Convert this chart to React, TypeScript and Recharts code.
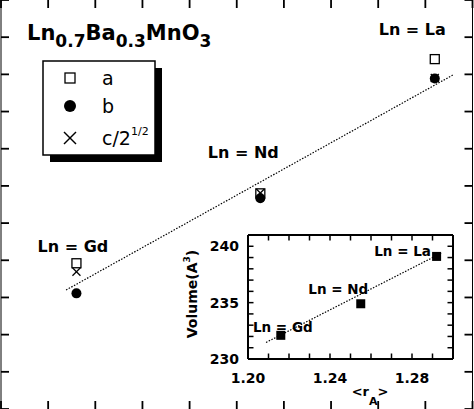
import React from 'react';
import { ScatterChart, Scatter, XAxis, YAxis, Legend, Customized } from 'recharts';

const FONT = 'DejaVu Sans';

// ---- main panel data ----
const lnNames = ['Gd', 'Nd', 'La'];
const rA = [1.216, 1.255, 1.292];
const aValues = [3.8892, 3.908, 3.9441];
const bValues = [3.8811, 3.9067, 3.9389];
const cValues = [3.8869, 3.9081, 3.939];
const fitX = [1.2138, 1.2958];
const fitY = [3.882, 3.9398];
const mainXTicks = [1.2, 1.21, 1.22, 1.23, 1.24, 1.25, 1.26, 1.27, 1.28, 1.29, 1.3];
const mainYTicks = [3.85, 3.86, 3.87, 3.88, 3.89, 3.9, 3.91, 3.92, 3.93, 3.94, 3.95, 3.96];

// ---- inset data ----
const volume = [232.1, 234.9, 239.1];
const volFitX = [1.2088, 1.2946];
const volFitY = [231.47, 239.42];
const insetXTicks = [1.2, 1.21, 1.22, 1.23, 1.24, 1.25, 1.26, 1.27, 1.28, 1.29, 1.3];
const insetXLabels = [1.2, 1.24, 1.28];
const insetYTicks = [230, 231, 232, 233, 234, 235, 236, 237, 238, 239, 240, 241];
const insetYLabels = [230, 235, 240];

const aData = rA.map((x, i) => ({ x, y: aValues[i], ln: lnNames[i] }));
const bData = rA.map((x, i) => ({ x, y: bValues[i], ln: lnNames[i] }));
const cData = rA.map((x, i) => ({ x, y: cValues[i], ln: lnNames[i] }));
const fitData = fitX.map((x, i) => ({ x, y: fitY[i] }));
const volData = rA.map((x, i) => ({ x, y: volume[i], ln: lnNames[i] }));
const volFitData = volFitX.map((x, i) => ({ x, y: volFitY[i] }));

// ---- layout / styles ----
const MAIN_W = 474;
const MAIN_H = 411;
const MAIN_MARGIN = { top: 0, right: 0.5, bottom: 0, left: 0 };
const MAIN_PLOT = { left: 1, right: 472.5, top: 1, bottom: 410 };
const INSET_W = 285;
const INSET_H = 185;
const INSET_MARGIN = { top: 9, right: 6, bottom: 21, left: 0 };
const INSET_PLOT = { left: 73, right: 278, top: 10, bottom: 134 };
const MAIN_TICK = { len: 8, width: 1.8 };
const INSET_TICK = { len: 5.5, width: 1.5 };

const mainLabelOffset: Record<string, [number, number]> = {
  Gd: [-3.5, -11.3],
  Nd: [-17, -35.5],
  La: [-22.5, -24.3],
};
const insetLabelOffset: Record<string, [number, number]> = {
  Gd: [2, -3],
  Nd: [-22.5, -10],
  La: [-34, 0],
};
const dotted = { stroke: '#000', strokeWidth: 1.2, strokeDasharray: '1.5 1.5', fill: 'none' };

const SquareOpen = (p: any) => (
  <rect x={p.cx - 4.5} y={p.cy - 4.5} width={9} height={9} fill="#fff" stroke="#000" strokeWidth={1.3} />
);
const Dot = (p: any) => <circle cx={p.cx} cy={p.cy} r={5} fill="#000" />;
const Cross = (p: any) => (
  <g stroke="#000" strokeWidth={1.3}>
    <line x1={p.cx - 4} y1={p.cy - 4} x2={p.cx + 4} y2={p.cy + 4} />
    <line x1={p.cx - 4} y1={p.cy + 4} x2={p.cx + 4} y2={p.cy - 4} />
  </g>
);
const SquareFilled = (p: any) => <rect x={p.cx - 4.5} y={p.cy - 4.5} width={9} height={9} fill="#000" />;
const Nothing = () => <g />;

const makeNameShape = (offsets: Record<string, [number, number]>, fontSize: number) => (p: any) => {
  const ln = p.payload?.ln;
  const o = offsets[ln] || [0, 0];
  return (
    <text x={p.cx + o[0]} y={p.cy + o[1]} textAnchor="middle" fontFamily={FONT} fontWeight="bold" fontSize={fontSize} fill="#000">
      {`Ln = ${ln}`}
    </text>
  );
};
const mainNameShape = makeNameShape(mainLabelOffset, 16);
const insetNameShape = makeNameShape(insetLabelOffset, 13.5);

// main chart container is shifted 1px up, so y coordinates are +1
const Title = () => (
  <text x={27} y={41} fontFamily={FONT} fontWeight="bold" fontSize={21} fill="#000">
    Ln
    <tspan fontSize={17} dy={7}>0.7</tspan>
    <tspan dy={-7}>Ba</tspan>
    <tspan fontSize={17} dy={7}>0.3</tspan>
    <tspan dy={-7}>MnO</tspan>
    <tspan fontSize={17} dy={7}>3</tspan>
  </text>
);

const legendRowY = [20, 48, 80];
const renderLegend = (props: any) => {
  const items = (props.payload || []).filter((e: any) => e.type !== 'none');
  return (
    <svg width={130} height={110} style={{ display: 'block' }}>
      <rect x={10} y={10} width={112} height={94} fill="#000" />
      <rect x={3} y={3} width={112} height={94} fill="#fff" stroke="#000" strokeWidth={1.5} />
      {items.map((e: any, i: number) => {
        const cy = legendRowY[i] ?? 20 + i * 30;
        const v = String(e.value);
        let marker;
        if (v === 'a') marker = <rect x={25} y={cy - 5} width={10} height={10} fill="#fff" stroke="#000" strokeWidth={1.3} />;
        else if (v === 'b') marker = <circle cx={30} cy={cy} r={6} fill="#000" />;
        else
          marker = (
            <g stroke="#000" strokeWidth={1.4}>
              <line x1={24} y1={cy - 6} x2={36} y2={cy + 6} />
              <line x1={24} y1={cy + 6} x2={36} y2={cy - 6} />
            </g>
          );
        return (
          <g key={i}>
            {marker}
            <text x={62} y={cy + 7} fontFamily={FONT} fontSize={19} fill="#000">
              {v.startsWith('c') ? (
                <>
                  c/2
                  <tspan fontSize={11} dy={-10}>1/2</tspan>
                </>
              ) : (
                v
              )}
            </text>
          </g>
        );
      })}
    </svg>
  );
};

// inward tick marks on both opposite sides, drawn by the bottom/left axes' tick renderers
const MainXTick = (p: any) => (
  <g stroke="#000" strokeWidth={MAIN_TICK.width}>
    <line x1={p.x} x2={p.x} y1={p.y} y2={p.y - MAIN_TICK.len} />
    <line x1={p.x} x2={p.x} y1={MAIN_PLOT.top} y2={MAIN_PLOT.top + MAIN_TICK.len} />
  </g>
);
const MainYTick = (p: any) => (
  <g stroke="#000" strokeWidth={MAIN_TICK.width}>
    <line x1={p.x} x2={p.x + MAIN_TICK.len} y1={p.y} y2={p.y} />
    <line x1={MAIN_PLOT.right} x2={MAIN_PLOT.right - MAIN_TICK.len} y1={p.y} y2={p.y} />
  </g>
);

const InsetXTick = (p: any) => {
  const v = p.payload?.value;
  const show = insetXLabels.some((l) => Math.abs(l - v) < 1e-6);
  return (
    <g>
      <g stroke="#000" strokeWidth={INSET_TICK.width}>
        <line x1={p.x} x2={p.x} y1={p.y} y2={p.y - INSET_TICK.len} />
        <line x1={p.x} x2={p.x} y1={INSET_PLOT.top} y2={INSET_PLOT.top + INSET_TICK.len} />
      </g>
      {show && (
        <text x={p.x} y={p.y + 24} textAnchor="middle" fontFamily={FONT} fontWeight="bold" fontSize={14} fill="#000">
          {Number(v).toFixed(2)}
        </text>
      )}
    </g>
  );
};
const InsetYTick = (p: any) => {
  const v = p.payload?.value;
  const show = insetYLabels.some((l) => Math.abs(l - v) < 1e-6);
  return (
    <g>
      <g stroke="#000" strokeWidth={INSET_TICK.width}>
        <line x1={p.x} x2={p.x + INSET_TICK.len} y1={p.y} y2={p.y} />
        <line x1={INSET_PLOT.right} x2={INSET_PLOT.right - INSET_TICK.len} y1={p.y} y2={p.y} />
      </g>
      {show && (
        <text x={p.x - 9} y={p.y + 5} textAnchor="end" fontFamily={FONT} fontWeight="bold" fontSize={14} fill="#000">
          {String(v)}
        </text>
      )}
    </g>
  );
};

const InsetAxisLabels = () => (
  <g fontFamily={FONT} fontWeight="bold" fill="#000">
    <text x={22} y={69} transform="rotate(-90, 22, 69)" textAnchor="middle" fontSize={14}>
      Volume(A
      <tspan fontSize={9} dy={-7}>3</tspan>
      <tspan dy={7}>)</tspan>
    </text>
    <text x={195} y={171} textAnchor="middle" fontSize={13}>
      &lt;r
      <tspan fontSize={11} dy={9}>A</tspan>
      <tspan dy={-9}>&gt;</tspan>
    </text>
  </g>
);

const frameLine = { stroke: '#000', strokeWidth: 1 };
const insetFrame = { stroke: '#000', strokeWidth: 2 };

export default function App() {
  return (
    <div style={{ position: 'fixed', left: 0, top: 0, width: 474, height: 409, overflow: 'hidden', background: '#fff' }}>
      <div style={{ position: 'absolute', left: 0, top: -1 }}>
        <ScatterChart width={MAIN_W} height={MAIN_H} margin={MAIN_MARGIN}>
          <XAxis xAxisId="b" type="number" dataKey="x" domain={[1.2, 1.3]} ticks={mainXTicks} interval={0} orientation="bottom" height={1} tickSize={0} tickMargin={0} tickLine={false} axisLine={false} tick={MainXTick} />
          <XAxis xAxisId="t" type="number" dataKey="x" domain={[1.2, 1.3]} ticks={mainXTicks} interval={0} orientation="top" height={1} tickSize={0} tickMargin={0} tickLine={false} axisLine={false} tick={false} />
          <YAxis yAxisId="l" type="number" dataKey="y" domain={[3.85, 3.96]} ticks={mainYTicks} interval={0} orientation="left" width={1} tickSize={0} tickMargin={0} tickLine={false} axisLine={frameLine} tick={MainYTick} />
          <YAxis yAxisId="r" type="number" dataKey="y" domain={[3.85, 3.96]} ticks={mainYTicks} interval={0} orientation="right" width={1} tickSize={0} tickMargin={0} tickLine={false} axisLine={frameLine} tick={false} />
          <Legend layout="vertical" align="center" verticalAlign="middle" content={renderLegend} wrapperStyle={{ left: 40, top: 59, width: 130, height: 110 }} />
          <Customized component={Title} />
          <Scatter xAxisId="t" yAxisId="r" name="fit" data={fitData} line={dotted} shape={Nothing} legendType="none" isAnimationActive={false} />
          <Scatter xAxisId="b" yAxisId="l" name="a" data={aData} shape={SquareOpen} legendType="square" isAnimationActive={false} />
          <Scatter xAxisId="b" yAxisId="l" name="b" data={bData} shape={Dot} legendType="circle" isAnimationActive={false} />
          <Scatter xAxisId="b" yAxisId="l" name="c/2^(1/2)" data={cData} shape={Cross} legendType="cross" isAnimationActive={false} />
          <Scatter xAxisId="b" yAxisId="l" name="names" data={aData} shape={mainNameShape} legendType="none" isAnimationActive={false} />
        </ScatterChart>
      </div>
      <div style={{ position: 'absolute', left: 175, top: 225 }}>
        <ScatterChart width={INSET_W} height={INSET_H} margin={INSET_MARGIN}>
          <XAxis xAxisId="x" type="number" dataKey="x" domain={[1.2, 1.3]} ticks={insetXTicks} interval={0} orientation="bottom" height={30} tickSize={0} tickMargin={0} tickLine={false} axisLine={insetFrame} tick={InsetXTick} />
          <XAxis xAxisId="xt" type="number" dataKey="x" domain={[1.2, 1.3]} ticks={insetXTicks} interval={0} orientation="top" height={1} tickSize={0} tickMargin={0} tickLine={false} axisLine={insetFrame} tick={false} />
          <YAxis yAxisId="y" type="number" dataKey="y" domain={[230, 241]} ticks={insetYTicks} interval={0} orientation="left" width={73} tickSize={0} tickMargin={0} tickLine={false} axisLine={insetFrame} tick={InsetYTick} />
          <YAxis yAxisId="yr" type="number" dataKey="y" domain={[230, 241]} ticks={insetYTicks} interval={0} orientation="right" width={1} tickSize={0} tickMargin={0} tickLine={false} axisLine={insetFrame} tick={false} />
          <Customized component={InsetAxisLabels} />
          <Scatter xAxisId="xt" yAxisId="yr" name="vfit" data={volFitData} line={dotted} shape={Nothing} legendType="none" isAnimationActive={false} />
          <Scatter xAxisId="x" yAxisId="y" name="vnames" data={volData} shape={insetNameShape} legendType="none" isAnimationActive={false} />
          <Scatter xAxisId="x" yAxisId="y" name="Volume" data={volData} shape={SquareFilled} legendType="none" isAnimationActive={false} />
        </ScatterChart>
      </div>
    </div>
  );
}
